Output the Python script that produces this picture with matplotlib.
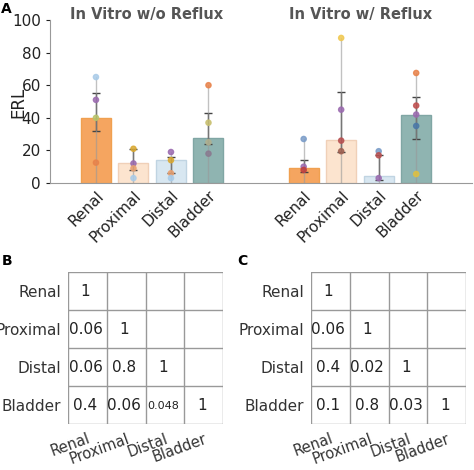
import matplotlib
matplotlib.use("Agg")
import matplotlib.pyplot as plt
import numpy as np

cats = ["Renal", "Proximal", "Distal", "Bladder"]
means_wo = [40, 12.5, 14, 27.5]
lo_wo = [32, 8, 6, 24]
hi_wo = [55, 21, 16, 43]
means_w = [9, 26.5, 4, 42]
lo_w = [7, 19, 2, 27]
hi_w = [14, 56, 17, 52.5]
pts_wo = [[65, 51, 40, 12.5], [21, 12, 9, 3], [19, 14, 6, 3], [60, 37, 25, 18]]
pcol_wo = [["#a9cbe8", "#9b6bb0", "#b8c46a", "#e8824a"],
           ["#d9a830", "#9b6bb0", "#e8a070", "#a9cbe8"],
           ["#9b6bb0", "#d9a830", "#e8a070", "#a9cbe8"],
           ["#e8824a", "#c9c070", "#b0b090", "#8a7a90"]]
pts_w = [[27, 10, 8], [89, 45, 26, 19.5], [19.5, 17, 3], [67.5, 47.5, 42, 35, 5.5]]
pcol_w = [["#7a9cc8", "#9b6bb0", "#c04040"],
          ["#f0c850", "#9b6bb0", "#b85050", "#a06050"],
          ["#7a9cc8", "#b85050", "#9b6bb0"],
          ["#e8824a", "#c05050", "#9b6bb0", "#4a78a8", "#e0c040"]]
bar_colors = ["#f5a560", "#fce4cf", "#d8e7f1", "#8fb4b1"]
bar_edges = ["#f0a050", "#f0d0b8", "#c0d4e2", "#80a6a4"]

pB = [[1, None, None, None], ["0.06", 1, None, None], ["0.06", "0.8", 1, None], ["0.4", "0.06", "0.048", 1]]
pC = [[1, None, None, None], ["0.06", 1, None, None], ["0.4", "0.02", 1, None], ["0.1", "0.8", "0.03", 1]]

fig = plt.figure(figsize=(4.74, 4.70), dpi=100)
ax = fig.add_axes([50/474, 1-183/470, 422/474, 163/470])
x1 = np.arange(4) * 0.8 + 1
x2 = np.arange(4) * 0.8 + 5.43
for xs, m, lo, hi, pts, pc in [(x1, means_wo, lo_wo, hi_wo, pts_wo, pcol_wo), (x2, means_w, lo_w, hi_w, pts_w, pcol_w)]:
    for i in range(4):
        ax.bar(xs[i], m[i], width=0.64, color=bar_colors[i], edgecolor=bar_edges[i], lw=1, zorder=1)
        ax.errorbar(xs[i], m[i], yerr=[[m[i]-lo[i]], [hi[i]-m[i]]], color="#444444", capsize=3, lw=1, zorder=2)
        ax.plot([xs[i], xs[i]], [0, max(pts[i])], color="#999999", lw=1, alpha=0.6, zorder=2)
        ax.scatter([xs[i]]*len(pts[i]), pts[i], s=14, c=pc[i], zorder=3, alpha=0.85)
ax.set_xticks(list(x1) + list(x2))
ax.set_xticklabels(cats + cats, rotation=45, ha="right", rotation_mode="anchor", fontsize=11, color="#222222")
ax.set_ylim(0, 100)
ax.set_xlim(0.02, 9.02)
ax.set_yticks([0, 20, 40, 60, 80, 100])
ax.tick_params(axis="y", labelsize=11, colors="#222222", length=3)
ax.tick_params(axis="x", length=0)
for s in ["top", "right"]:
    ax.spines[s].set_visible(False)
for s in ["left", "bottom"]:
    ax.spines[s].set_color("#999999")
fig.text(18/474, 1-102/470, "ERL", rotation=90, ha="center", va="center", fontsize=12, color="#222222")
fig.text(0.31, 0.985, "In Vitro w/o Reflux", ha="center", va="top", fontsize=10.5, weight="bold", color="#555555")
fig.text(0.76, 0.985, "In Vitro w/ Reflux", ha="center", va="top", fontsize=10.5, weight="bold", color="#555555")
fig.text(0.003, 0.995, "A", fontsize=10, weight="bold", va="top")
fig.text(0.003, 0.46, "B", fontsize=10, weight="bold", va="top")
fig.text(0.5, 0.46, "C", fontsize=10, weight="bold", va="top")

for left, data in [(68, pB), (311, pC)]:
    a = fig.add_axes([left/474, 1-424/470, 155/474, 152/470])
    a.set_xlim(0, 4); a.set_ylim(4, 0)
    for k in range(5):
        a.axhline(k, color="#999999", lw=1)
        a.axvline(k, color="#999999", lw=1)
    for r in range(4):
        for c in range(4):
            v = data[r][c]
            if v is not None:
                fs = 8 if v == "0.048" else 11
                a.text(c + 0.45, r + 0.52, str(v), ha="center", va="center", fontsize=fs, color="#222222")
    a.set_xticks(np.arange(4) + 0.5)
    a.set_xticklabels(cats, rotation=20, ha="right", rotation_mode="anchor", fontsize=10.5, color="#333333")
    a.set_yticks(np.arange(4) + 0.5)
    a.set_yticklabels(cats, fontsize=11, color="#333333")
    a.tick_params(length=0, pad=5)
    for s in a.spines.values():
        s.set_visible(False)

fig.savefig("out.png", dpi=100)
